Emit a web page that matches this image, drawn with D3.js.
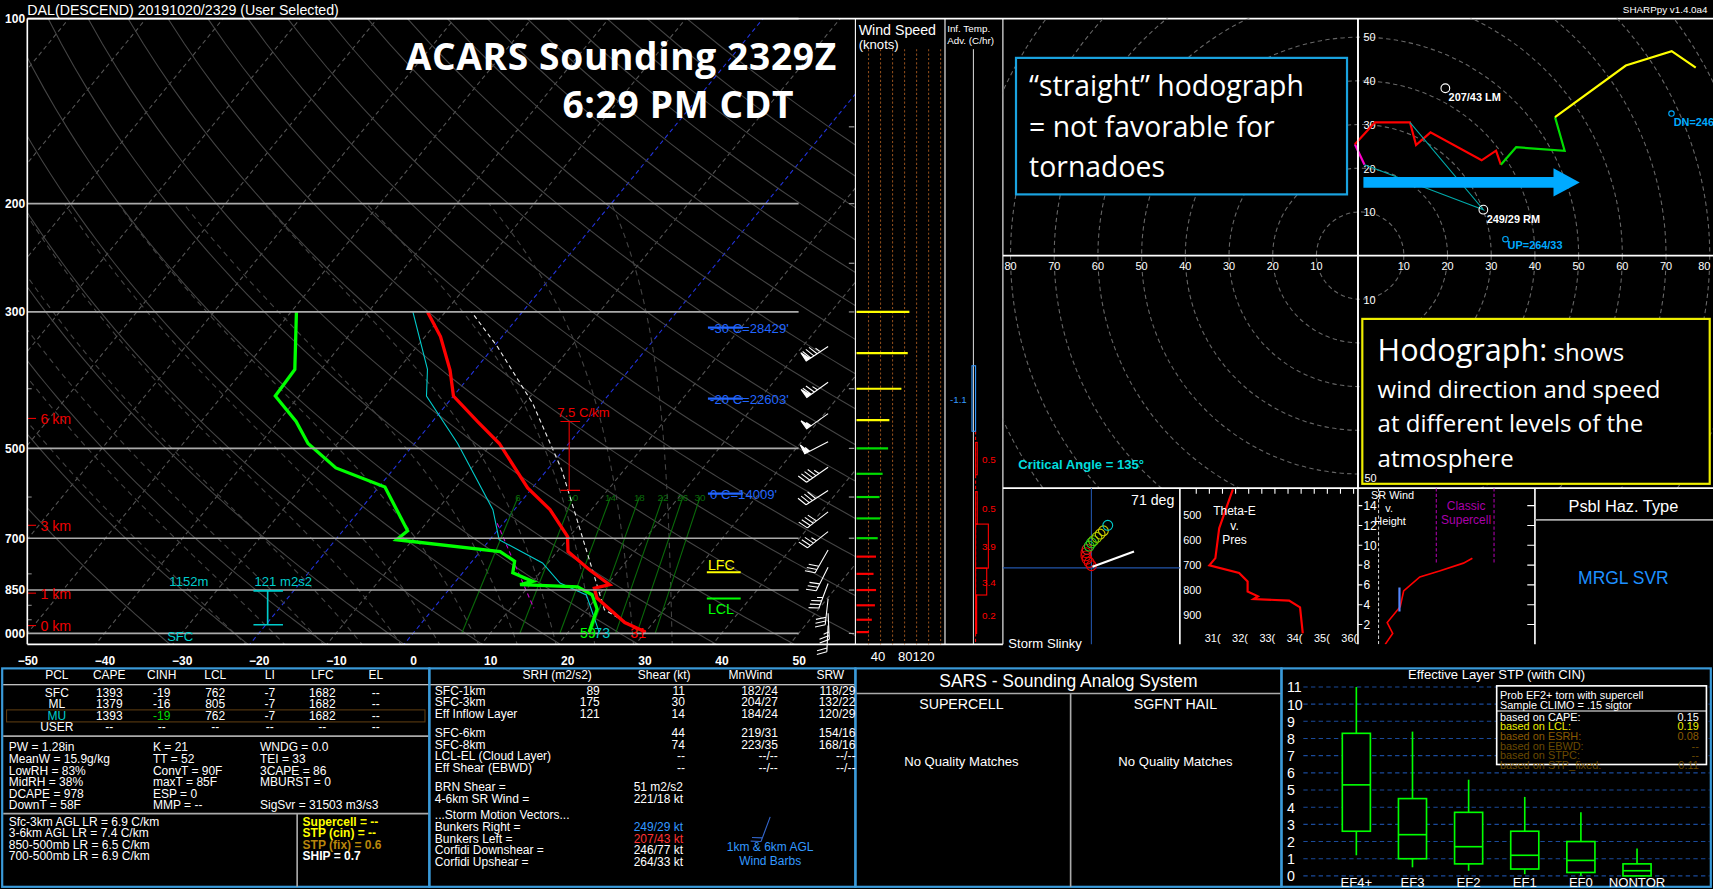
<!DOCTYPE html>
<html><head><meta charset="utf-8">
<script src="https://cdn.jsdelivr.net/npm/d3@7/dist/d3.min.js"></script>
<style>
body{margin:0;background:#000;overflow:hidden}
text{font-family:"Liberation Sans Narrow","Liberation Sans",Arial,sans-serif}
.ann{font-family:"Open Sans","Noto Sans",sans-serif}
</style></head><body>
<svg id="chart"></svg>
<script>
// ---- sounding data ----
var tmpP = [995, 960, 876, 844, 833, 788, 736, 695, 629, 580, 491, 452, 411, 373, 329, 300]
var tmpT = [30, 26.3, 20.1, 18.7, 20.3, 16.1, 11.4, 9.7, 4.6, -0.6, -9, -14.2, -20, -23.2, -28, -32.3]
var dwpP = [995, 913, 865, 840, 833, 823, 797, 763, 736, 704, 681, 578, 538, 491, 452, 411, 372, 300]
var dwpT = [22.7, 21.3, 19.1, 16.4, 8.7, 10, 6.5, 5.5, 2.6, -12.1, -11.6, -19.2, -27.6, -33.8, -37.7, -43.1, -43.4, -49.3]
var wbP = [995, 866, 828, 768, 704, 629, 491, 411, 372, 300]
var wbT = [24, 18.4, 13.7, 9.3, 1.2, -2.8, -14.4, -23.5, -26.2, -34.2]
var pclP = [995, 960, 915, 788, 695, 542, 422, 342, 300]
var pclT = [30, 26.5, 22.3, 16.5, 11.6, 1.9, -9, -19.5, -26.6]
var dcapeP = [662, 910]
var dcapeT = [-0.8, 13]

// winds (u, v in kt)
var windP = [995, 950, 900, 850, 800, 750, 700, 650, 600, 550, 500, 450, 400, 350, 300]
var windU = [1.0, -1.2, 3.4, 11.4, 12.8, 16.1, 27.8, 31.1, 32.2, 35.7, 46.8, 44.6, 60.8, 71.3, 76.8]
var windV = [20.8, 25.5, 30.5, 30.5, 25.3, 28.2, 21.8, 24, 20.8, 24.8, 24, 31.7, 43.5, 46.8, 43]

var tempTicks = [-50, -40, -30, -20, -10, 0, 10, 20, 30, 40, 50]
var presTicks = [100, 200, 300, 500, 700, 850, 1000]
var hgtLabels = ['0 km', '1 km', '3 km', '6 km']
var hgtP = [971, 860, 667, 447]
var mixRatios = [6, 10, 14, 18, 22, 26, 30]

// inferred temp advection
var advTop = [367, 489, 588, 664, 783, 866]
var advBot = [469, 552, 664, 783, 866, 1000]
var advVal = [-1.1, 0.5, 0.5, 3.9, 3.4, 0.2]

// theta-e vs pressure
var thetaP = [400, 555, 674, 703, 733, 767, 807, 826, 837, 843, 870, 974]
var thetaE = [317.4, 312.4, 311, 308.8, 319.7, 322.8, 322.8, 326.6, 325, 338, 342, 343]

// storm-relative wind vs height
var srKm = [0, 1.1, 2.2, 3.8, 5.4, 6.8, 7.4, 8.2, 8.7]
var srKt = [22.3, 24.9, 23, 27.5, 28.7, 34.3, 41.1, 49.4, 52.5]

// storm slinky offsets
var slinkyX = [0, -2, -4, -5, -5, -4, -2, 0, 2, 5, 8, 11, 15]
var slinkyY = [-2, -5, -8, -11, -14, -17, -20, -23, -25, -28, -31, -34, -39]
var slinkyC = ['#e00', '#e00', '#e00', '#e00', '#e00', '#d22', '#2c2', '#2c2', '#6c0', '#9c0', '#cc0', '#cc0', '#0cc']

// STP box plot
var stpCats = ['EF4+', 'EF3', 'EF2', 'EF1', 'EF0', 'NONTOR']
var stpLo = [1.2, 0.5, 0.3, 0.1, 0, 0]
var stpQ1 = [2.6, 1.0, 0.7, 0.4, 0.2, 0]
var stpMed = [5.3, 2.4, 1.7, 1.2, 0.9, 0.3]
var stpQ3 = [8.3, 4.5, 3.7, 2.6, 2.0, 0.7]
var stpHi = [11, 8.4, 5.6, 4.6, 3.7, 1.6]

var W = 1568, H = 814
var svg = d3.select('#chart')
  .attr('width', 1713).attr('height', 889)
  .attr('viewBox', '0 0 ' + W + ' ' + H)
  .attr('preserveAspectRatio', 'none')
  .style('background', '#000')

function txt(g, x, y, s, size, color, anchor, weight) {
  return g.append('text').attr('x', x).attr('y', y).text(s)
    .attr('font-size', size).attr('fill', color || '#fff')
    .attr('text-anchor', anchor || 'start')
    .attr('font-weight', weight || 'normal')
}

// ================= skew-T =================
var x = d3.scaleLinear().domain([-50, 50]).range([25, 731])
var y = d3.scaleLog().domain([1000, 100]).range([580, 17])
var skew = 0.82
function sx(t, p) { return x(t) + skew * (580 - y(p)) }

svg.append('clipPath').attr('id', 'skewclip')
  .append('rect').attr('x', 25).attr('y', 17).attr('width', 758).attr('height', 573)
var sk = svg.append('g').attr('clip-path', 'url(#skewclip)')

var pGrid = d3.range(1050, 95, -10)
var lineTP = d3.line().x(d => sx(d[0], d[1])).y(d => y(d[1]))

// isotherms
d3.range(-120, 60, 10).forEach(t => {
  var col = (t === 0 || t === -20) ? '#2233dd' : '#555'
  sk.append('line').attr('x1', sx(t, 1050)).attr('y1', y(1050))
    .attr('x2', sx(t, 100)).attr('y2', y(100))
    .attr('stroke', col).attr('stroke-width', 1).attr('stroke-dasharray', '4,3')
})
// dry adiabats
d3.range(240, 480, 10).forEach(th => {
  sk.append('path').datum(pGrid.map(p => [th * Math.pow(p / 1000, 0.286) - 273.15, p]))
    .attr('d', lineTP).attr('fill', 'none').attr('stroke', '#444').attr('stroke-width', 1)
})
// moist adiabats
function es(t) { return 6.112 * Math.exp(17.67 * t / (t + 243.5)) }
d3.range(-20, 40, 5).forEach(t0 => {
  var pts = [], t = t0 + 273.15
  for (var p = 1050; p >= 200; p -= 5) {
    var tc = t - 273.15, rs = 0.622 * es(tc) / (p - es(tc))
    pts.push([tc, p])
    var dtdp = (287 * t + 2.5e6 * rs) / (p * (1004 + 2.5e6 * 2.5e6 * rs * 0.622 / (287 * t * t)))
    t -= dtdp * 5
  }
  sk.append('path').datum(pts).attr('d', lineTP).attr('fill', 'none')
    .attr('stroke', '#444').attr('stroke-width', 1).attr('stroke-dasharray', '5,4')
})
// mixing ratio lines
mixRatios.forEach(w => {
  var pts = [1000, 600].map(p => {
    var e = w / 1000 * p / (0.622 + w / 1000), l = Math.log(e / 6.112)
    return [243.5 * l / (17.67 - l), p]
  })
  sk.append('path').datum(pts).attr('d', lineTP).attr('stroke', '#0a6a0a').attr('stroke-width', 1)
  txt(sk, sx(pts[1][0], 600), y(600) + 4, w, 9, '#0a6a0a', 'middle')
})
// pressure lines
presTicks.forEach(p => {
  svg.append('line').attr('x1', 25).attr('x2', 731).attr('y1', y(p)).attr('y2', y(p))
    .attr('stroke', '#aaa').attr('stroke-width', 1.5)
  txt(svg, 23, y(p) + 4, p === 1000 ? '000' : p, 11, '#fff', 'end', 'bold')
})
;[400, 600, 800, 900, 950].forEach(p => {
  svg.append('line').attr('x1', 25).attr('x2', 29).attr('y1', y(p)).attr('y2', y(p)).attr('stroke', '#888')
})
hgtLabels.forEach((h, i) => {
  svg.append('line').attr('x1', 25).attr('x2', 33).attr('y1', y(hgtP[i])).attr('y2', y(hgtP[i])).attr('stroke', '#e00')
  txt(svg, 37, y(hgtP[i]) + 5, h, 13, '#e00')
})

// profiles
function prof(P, T, col, wdt, dash) {
  sk.append('path').datum(P.map((p, i) => [T[i], p])).attr('d', lineTP)
    .attr('fill', 'none').attr('stroke', col).attr('stroke-width', wdt)
    .attr('stroke-dasharray', dash || null)
}
prof(dcapeP, dcapeT, '#c0c', 1, '4,3')
prof(pclP, pclT, '#eee', 1, '4,3')
prof(wbP, wbT, '#0cc', 1)
prof(dwpP, dwpT, '#0f0', 3)
prof(tmpP, tmpT, '#f00', 3)
sk.append('line').attr('x1', sx(tmpT[0], 995)).attr('y1', y(995)).attr('x2', sx(tmpT[1], 960)).attr('y2', y(960))
  .attr('stroke', '#f00').attr('stroke-width', 2).attr('stroke-dasharray', '3,2')

// annotations on skew-T
var fz = [['-30 C=28429\'', 300], ['-20 C=22603\'', 365], ['0 C=14009\'', 452]]
fz.forEach(f => {
  txt(svg, 650, f[1] + 5, f[0], 12, '#2266ff')
  svg.append('line').attr('x1', 648).attr('x2', 680).attr('y1', f[1]).attr('y2', f[1]).attr('stroke', '#2266ff').attr('stroke-width', 2)
})
txt(svg, 648, 522, 'LFC', 13, '#ff0')
svg.append('line').attr('x1', 647).attr('x2', 678).attr('y1', 524).attr('y2', 524).attr('stroke', '#ff0').attr('stroke-width', 2)
txt(svg, 648, 562, 'LCL', 13, '#0f0')
svg.append('line').attr('x1', 647).attr('x2', 678).attr('y1', 548).attr('y2', 548).attr('stroke', '#0f0').attr('stroke-width', 2)
txt(svg, 510, 382, '7.5 C/km', 12, '#e00')
svg.append('path').attr('d', 'M513,386H531M521,386V449M513,449H531').attr('stroke', '#e00').attr('fill', 'none')
txt(svg, 155, 537, '1152m', 12, '#0cc')
txt(svg, 233, 537, '121 m2s2', 12, '#0cc')
svg.append('path').attr('d', 'M232,541H259M245,541V572M232,572H259').attr('stroke', '#0cc').attr('fill', 'none').attr('stroke-width', 1.5)
txt(svg, 153, 587, 'SFC', 12, '#0cc')
txt(svg, 531, 584, '59', 13, '#0f0')
txt(svg, 544, 584, '73', 13, '#0cc')
txt(svg, 577, 584, '31', 13, '#f00')

// temperature axis
var xa = svg.append('g').attr('transform', 'translate(0,597)')
  .call(d3.axisBottom(x).tickValues(tempTicks).tickSize(0).tickPadding(4))
xa.select('.domain').remove()
xa.selectAll('text').attr('fill', '#fff').attr('font-size', 11).attr('font-weight', 'bold')
  .attr('font-family', 'Liberation Sans Narrow, Liberation Sans, Arial')

// wind barbs
function barb(g, bx, by, u, v) {
  var spd = Math.sqrt(u * u + v * v), dir = Math.atan2(-u, -v)
  var ux = Math.sin(dir), uy = -Math.cos(dir), L = 24
  var ex = bx + ux * L, ey = by + uy * L
  var px = -uy, py = ux, s = Math.round(spd / 5) * 5, pos = 0, d = 'M' + bx + ',' + by + 'L' + ex + ',' + ey
  while (s >= 50) {
    var ax = ex - ux * pos, ay = ey - uy * pos
    d += 'M' + ax + ',' + ay + 'L' + (ax + px * 9) + ',' + (ay + py * 9) + 'L' + (ax - ux * 4) + ',' + (ay - uy * 4) + 'Z'
    s -= 50; pos += 5
  }
  while (s >= 10) {
    var ax = ex - ux * pos, ay = ey - uy * pos
    d += 'M' + ax + ',' + ay + 'L' + (ax + px * 9 + ux * 3) + ',' + (ay + py * 9 + uy * 3)
    s -= 10; pos += 3.5
  }
  if (s >= 5) {
    var ax = ex - ux * pos, ay = ey - uy * pos
    d += 'M' + ax + ',' + ay + 'L' + (ax + px * 5 + ux * 2) + ',' + (ay + py * 5 + uy * 2)
  }
  g.append('path').attr('d', d).attr('stroke', '#fff').attr('fill', '#fff').attr('stroke-width', 1)
}
windP.forEach((p, i) => { if (p >= 320) barb(svg, 758, y(p) - 6, windU[i], windV[i]) })

// skew-T frame
svg.append('line').attr('x1', 25).attr('x2', 25).attr('y1', 17).attr('y2', 590).attr('stroke', '#fff').attr('stroke-width', 1.5)
svg.append('line').attr('x1', 25).attr('x2', 918).attr('y1', 590).attr('y2', 590).attr('stroke', '#fff').attr('stroke-width', 1.5)
svg.append('line').attr('x1', 25).attr('x2', 1568).attr('y1', 17).attr('y2', 17).attr('stroke', '#fff').attr('stroke-width', 1.5)

// title texts
txt(svg, 25, 14, 'DAL(DESCEND)  20191020/2329  (User Selected)', 13, '#fff')
txt(svg, 1563, 12, 'SHARPpy v1.4.0a4', 9, '#fff', 'end')
txt(svg, 766, 64, 'ACARS Sounding 2329Z', 34, '#fff', 'end', 'bold').attr('class', 'ann').attr('letter-spacing', 0.6)
txt(svg, 727, 108, '6:29 PM CDT', 34, '#fff', 'end', 'bold').attr('class', 'ann').attr('letter-spacing', 0.6)

// ================= wind speed panel =================
var ws = d3.scaleLinear().domain([0, 140]).range([784, 861])
svg.append('line').attr('x1', 783).attr('x2', 783).attr('y1', 17).attr('y2', 590).attr('stroke', '#fff')
;[150, 200, 250, 300, 400, 500, 600, 700, 850, 1000].forEach(p => {
  svg.append('line').attr('x1', 777).attr('x2', 782).attr('y1', y(p)).attr('y2', y(p)).attr('stroke', '#aaa')
})
d3.range(20, 150, 20).forEach(k => {
  svg.append('line').attr('x1', ws(k)).attr('x2', ws(k)).attr('y1', 45).attr('y2', 590)
    .attr('stroke', '#8a4a1a').attr('stroke-dasharray', '2,2')
})
windP.forEach((p, i) => {
  var spd = Math.sqrt(windU[i] * windU[i] + windV[i] * windV[i])
  var col = p > 700 ? '#f00' : (p > 450 ? '#0d0' : '#ff0')
  svg.append('line').attr('x1', ws(0)).attr('x2', ws(spd)).attr('y1', y(p)).attr('y2', y(p))
    .attr('stroke', col).attr('stroke-width', 2)
})
txt(svg, 786, 32, 'Wind Speed', 13, '#fff')
txt(svg, 786, 45, '(knots)', 12, '#fff')
txt(svg, 797, 605, '40', 12, '#fff')
txt(svg, 822, 605, '80120', 12, '#fff')

// ================= inferred temp advection =================
svg.append('line').attr('x1', 865).attr('x2', 865).attr('y1', 17).attr('y2', 590).attr('stroke', '#fff')
svg.append('line').attr('x1', 918).attr('x2', 918).attr('y1', 17).attr('y2', 590).attr('stroke', '#fff')
txt(svg, 867, 29, 'Inf. Temp.', 9, '#fff')
txt(svg, 867, 40, 'Adv. (C/hr)', 9, '#fff')
svg.append('line').attr('x1', 891).attr('x2', 891).attr('y1', 45).attr('y2', 590).attr('stroke', '#fff').attr('stroke-width', 0.8)
svg.append('line').attr('x1', 893).attr('x2', 893).attr('y1', y(469)).attr('y2', 590).attr('stroke', '#f00').attr('stroke-dasharray', '3,2')
advVal.forEach((v, i) => {
  var col = v < 0 ? '#39f' : '#f00'
  var x0 = 893, x1 = 893 + v * 3
  svg.append('rect').attr('x', Math.min(x0, x1)).attr('width', Math.max(Math.abs(x1 - x0), 1))
    .attr('y', y(advTop[i])).attr('height', y(advBot[i]) - y(advTop[i]))
    .attr('fill', 'none').attr('stroke', col)
  txt(svg, v < 0 ? 885 : 899, (y(advTop[i]) + y(advBot[i])) / 2 + 4, v, 9, col, v < 0 ? 'end' : 'start')
})

// ================= hodograph =================
var hs = 4, hcx = 1245, hcy = 234
svg.append('clipPath').attr('id', 'hodoclip')
  .append('rect').attr('x', 918).attr('y', 17).attr('width', 650).attr('height', 430)
var hg = svg.append('g').attr('clip-path', 'url(#hodoclip)')
d3.range(10, 100, 10).forEach(r => {
  hg.append('circle').attr('cx', hcx).attr('cy', hcy).attr('r', r * hs)
    .attr('fill', 'none').attr('stroke', '#666').attr('stroke-dasharray', '4,3')
})
hg.append('line').attr('x1', hcx - 2).attr('x2', hcx - 2).attr('y1', 17).attr('y2', 447).attr('stroke', '#fff').attr('stroke-width', 1.5)
hg.append('line').attr('x1', 918).attr('x2', 1568).attr('y1', hcy).attr('y2', hcy).attr('stroke', '#fff').attr('stroke-width', 1.5)
d3.range(10, 90, 10).forEach(k => {
  txt(hg, hcx - k * hs, hcy + 13, k, 10, '#fff', 'middle')
  txt(hg, Math.min(hcx + k * hs, 1560), hcy + 13, k, 10, '#fff', 'middle')
  if (k <= 50) {
    txt(hg, hcx + 3, hcy - k * hs + 4, k, 10, '#fff')
    txt(hg, hcx + 3, hcy + k * hs + 4, k, 10, '#fff')
  }
})
var hodoLine = d3.line().x(i => hcx + windU[i] * hs).y(i => hcy - windV[i] * hs)
var seg = [[[0, 1], '#f0c'], [[1, 2, 3, 4, 5, 6, 7, 8], '#f00'], [[8, 9, 10, 11], '#0d0'], [[11, 12, 13, 14], '#ff0']]
seg.forEach(s => hg.append('path').attr('d', hodoLine(s[0])).attr('fill', 'none').attr('stroke', s[1]).attr('stroke-width', 2))
// storm motions
var rmU = 28.2, rmV = 10.5, lmU = 19.5, lmV = 38.3
hg.append('path').attr('d', 'M' + (hcx + windU[0] * hs) + ',' + (hcy - windV[0] * hs) + 'L' + (hcx + rmU * hs) + ',' + (hcy - rmV * hs) + 'L' + (hcx + windU[3] * hs) + ',' + (hcy - windV[3] * hs))
  .attr('fill', 'none').attr('stroke', '#0aa')
;[[rmU, rmV, '249/29 RM'], [lmU, lmV, '207/43 LM']].forEach(m => {
  hg.append('circle').attr('cx', hcx + m[0] * hs).attr('cy', hcy - m[1] * hs).attr('r', 4).attr('fill', 'none').attr('stroke', '#fff')
  txt(hg, hcx + m[0] * hs + 3, hcy - m[1] * hs + 12, m[2], 10, '#fff', 'start', 'bold')
})
hg.append('circle').attr('cx', 1378).attr('cy', 219).attr('r', 2.5).attr('fill', 'none').attr('stroke', '#0af')
txt(hg, 1380, 228, 'UP=264/33', 10, '#0af', 'start', 'bold')
hg.append('circle').attr('cx', 1530).attr('cy', 104).attr('r', 2.5).attr('fill', 'none').attr('stroke', '#0af')
txt(hg, 1532, 115, 'DN=246', 10, '#0af', 'start', 'bold')
txt(svg, 932, 429, 'Critical Angle = 135\u00b0', 12, '#0dd', 'start', 'bold')

// annotation boxes
svg.append('rect').attr('x', 930).attr('y', 53).attr('width', 303).attr('height', 125).attr('fill', '#000').attr('stroke', '#1aa3e0').attr('stroke-width', 2)
;['\u201cstraight\u201d hodograph', '= not favorable for', 'tornadoes'].forEach((s, i) => {
  txt(svg, 942, 88 + i * 37, s, 26, '#fff').attr('class', 'ann')
})
svg.append('rect').attr('x', 1247).attr('y', 292).attr('width', 318).attr('height', 151).attr('fill', '#000').attr('stroke', '#ee0').attr('stroke-width', 2)
var ht = txt(svg, 1261, 331, 'Hodograph:', 28, '#fff').attr('class', 'ann')
ht.append('tspan').attr('font-size', 22).text(' shows')
;['wind direction and speed', 'at different levels of the', 'atmosphere'].forEach((s, i) => {
  txt(svg, 1261, 364 + i * 32, s, 22, '#fff').attr('class', 'ann')
})
txt(svg, 1249, 441, '50', 10, '#fff')
svg.append('line').attr('x1', 1248).attr('x2', 1425).attr('y1', 167).attr('y2', 167).attr('stroke', '#0af').attr('stroke-width', 10)
svg.append('path').attr('d', 'M1422,154L1446,167L1422,180Z').attr('fill', '#0af')

// ================= lower insets =================
svg.append('line').attr('x1', 918).attr('x2', 1568).attr('y1', 447).attr('y2', 447).attr('stroke', '#fff').attr('stroke-width', 1.5)
;[1080, 1243, 1405].forEach(v => svg.append('line').attr('x1', v).attr('x2', v).attr('y1', 447).attr('y2', 590).attr('stroke', '#fff').attr('stroke-width', 1.5))
svg.append('line').attr('x1', 1243).attr('x2', 1243).attr('y1', 17).attr('y2', 447).attr('stroke', '#fff').attr('stroke-width', 1.5)

// storm slinky
svg.append('line').attr('x1', 999).attr('x2', 999).attr('y1', 447).attr('y2', 590).attr('stroke', '#25a')
svg.append('line').attr('x1', 918).attr('x2', 1080).attr('y1', 520).attr('y2', 520).attr('stroke', '#25a')
slinkyX.forEach((d, i) => {
  svg.append('circle').attr('cx', 999 + d).attr('cy', 520 + slinkyY[i]).attr('r', 4.5)
    .attr('fill', 'none').attr('stroke', slinkyC[i])
})
svg.append('line').attr('x1', 1000).attr('y1', 519).attr('x2', 1038).attr('y2', 505).attr('stroke', '#fff').attr('stroke-width', 2)
txt(svg, 1075, 462, '71 deg', 13, '#fff', 'end')
txt(svg, 923, 593, 'Storm Slinky', 12, '#fff')

// theta-e
var tx = d3.scaleLinear().domain([300, 364]).range([1085, 1245])
var tyy = d3.scaleLinear().domain([500, 1000]).range([471, 586])
svg.append('clipPath').attr('id', 'thclip').append('rect').attr('x', 1080).attr('y', 447).attr('width', 163).attr('height', 143)
var th = svg.append('g').attr('clip-path', 'url(#thclip)')
;[500, 600, 700, 800, 900].forEach(p => txt(th, 1083, tyy(p) + 4, p, 10, '#fff'))
d3.range(310, 370, 10).forEach(t => txt(th, tx(t), 588, (t + '').slice(0, 2) + '(', 10, '#fff', 'middle'))
d3.range(1095, 1243, 12).forEach(v => th.append('line').attr('x1', v).attr('x2', v).attr('y1', 447).attr('y2', 452).attr('stroke', '#fff'))
th.append('path').datum(thetaP.map((p, i) => [tx(thetaE[i]), tyy(p)])).attr('d', d3.line())
  .attr('fill', 'none').attr('stroke', '#f00').attr('stroke-width', 2)
txt(th, 1130, 472, 'Theta-E', 11, '#fff', 'middle')
txt(th, 1130, 485, 'v.', 11, '#fff', 'middle')
txt(th, 1130, 498, 'Pres', 11, '#fff', 'middle')

// SR wind
var srx = d3.scaleLinear().domain([0, 70]).range([1209, 1394])
var sry = d3.scaleLinear().domain([0, 14]).range([590, 463])
svg.append('clipPath').attr('id', 'srclip').append('rect').attr('x', 1243).attr('y', 447).attr('width', 162).attr('height', 143)
var sr = svg.append('g').attr('clip-path', 'url(#srclip)')
d3.range(2, 16, 2).forEach(k => {
  txt(sr, 1248, sry(k) + 4, k, 11, '#fff')
  sr.append('line').attr('x1', 1243).attr('x2', 1247).attr('y1', sry(k)).attr('y2', sry(k)).attr('stroke', '#fff')
  sr.append('line').attr('x1', 1398).attr('x2', 1405).attr('y1', sry(k)).attr('y2', sry(k)).attr('stroke', '#fff')
})
sr.append('line').attr('x1', srx(20)).attr('x2', srx(20)).attr('y1', 447).attr('y2', 590).attr('stroke', '#ccc').attr('stroke-dasharray', '3,2')
;[40, 60].forEach(k => sr.append('line').attr('x1', srx(k)).attr('x2', srx(k)).attr('y1', 447).attr('y2', 517).attr('stroke', '#a0a').attr('stroke-dasharray', '3,2'))
sr.append('path').datum(srKm.map((k, i) => [srx(srKt[i]), sry(k)])).attr('d', d3.line())
  .attr('fill', 'none').attr('stroke', '#f00').attr('stroke-width', 1.5)
sr.append('line').attr('x1', 1281).attr('x2', 1281).attr('y1', 538).attr('y2', 560).attr('stroke', '#58f').attr('stroke-width', 2)
txt(sr, 1255, 457, 'SR Wind', 10, '#fff')
txt(sr, 1268, 469, 'v.', 10, '#fff')
txt(sr, 1258, 481, 'Height', 10, '#fff')
txt(sr, 1342, 467, 'Classic', 11, '#a0a', 'middle')
txt(sr, 1342, 480, 'Supercell', 11, '#a0a', 'middle')

// possible hazard
txt(svg, 1486, 469, 'Psbl Haz. Type', 15, '#fff', 'middle')
svg.append('line').attr('x1', 1405).attr('x2', 1568).attr('y1', 476).attr('y2', 476).attr('stroke', '#aaa').attr('stroke-width', 1.5)
txt(svg, 1486, 535, 'MRGL SVR', 16, '#1e90ff', 'middle')

// ================= bottom panels =================
var bc = '#3a9ad9'
;[[2, 393], [393, 783], [783, 1173], [1173, 1566]].forEach(b => {
  svg.append('rect').attr('x', b[0]).attr('y', 612).attr('width', b[1] - b[0]).attr('height', 200)
    .attr('fill', 'none').attr('stroke', bc).attr('stroke-width', 2)
})
// panel 1
var pclCols = ['PCL', 'CAPE', 'CINH', 'LCL', 'LI', 'LFC', 'EL']
var pclX = [52, 100, 148, 197, 247, 295, 344]
var pclRows = [
  ['SFC', '1393', '-19', '762', '-7', '1682', '--'],
  ['ML', '1379', '-16', '805', '-7', '1682', '--'],
  ['MU', '1393', '-19', '762', '-7', '1682', '--'],
  ['USER', '--', '--', '--', '--', '--', '--']]
pclCols.forEach((c, i) => txt(svg, pclX[i], 622, c, 11, '#fff', 'middle'))
svg.append('line').attr('x1', 3).attr('x2', 392).attr('y1', 627).attr('y2', 627).attr('stroke', '#fff')
svg.append('rect').attr('x', 6).attr('y', 650).attr('width', 383).attr('height', 11).attr('fill', 'none').attr('stroke', '#5a3a10')
pclRows.forEach((r, j) => r.forEach((c, i) => {
  var col = '#fff'
  if (j === 2 && i === 0) col = '#0cc'
  if (j === 2 && i === 2) col = '#0d0'
  txt(svg, pclX[i], 638 + j * 10.5, c, 11, col, 'middle')
}))
svg.append('line').attr('x1', 3).attr('x2', 392).attr('y1', 674).attr('y2', 674).attr('stroke', '#aaa').attr('stroke-width', 1.5)
var idx1 = ['PW = 1.28in', 'MeanW = 15.9g/kg', 'LowRH = 83%', 'MidRH = 38%', 'DCAPE = 978', 'DownT = 58F']
var idx2 = ['K = 21', 'TT = 52', 'ConvT = 90F', 'maxT = 85F', 'ESP = 0', 'MMP = --']
var idx3 = ['WNDG = 0.0', 'TEI = 33', '3CAPE = 86', 'MBURST = 0', '', 'SigSvr = 31503 m3/s3']
;[idx1, idx2, idx3].forEach((col, k) => col.forEach((s, i) => txt(svg, [8, 140, 238][k], 688 + i * 10.6, s, 11, '#fff')))
svg.append('line').attr('x1', 3).attr('x2', 392).attr('y1', 745).attr('y2', 745).attr('stroke', '#aaa').attr('stroke-width', 1.5)
svg.append('line').attr('x1', 272).attr('x2', 272).attr('y1', 745).attr('y2', 812).attr('stroke', '#aaa').attr('stroke-width', 1.5)
;['Sfc-3km AGL LR = 6.9 C/km', '3-6km AGL LR = 7.4 C/km', '850-500mb LR = 6.5 C/km', '700-500mb LR = 6.9 C/km']
  .forEach((s, i) => txt(svg, 8, 756 + i * 10.6, s, 11, '#fff'))
var sup = [['Supercell = --', '#ff0'], ['STP (cin) = --', '#ff0'], ['STP (fix) = 0.6', '#b8860b'], ['SHIP = 0.7', '#fff']]
sup.forEach((s, i) => txt(svg, 277, 756 + i * 10.6, s[0], 11, s[1], 'start', 'bold'))

// panel 2
;[['SRH (m2/s2)', 510], ['Shear (kt)', 608], ['MnWind', 687], ['SRW', 760]].forEach(h => txt(svg, h[1], 622, h[0], 11, '#fff', 'middle'))
svg.append('line').attr('x1', 394).attr('x2', 782).attr('y1', 627).attr('y2', 627).attr('stroke', '#fff')
var kin = [
  ['SFC-1km', '89', '11', '182/24', '118/29', 636],
  ['SFC-3km', '175', '30', '204/27', '132/22', 646.5],
  ['Eff Inflow Layer', '121', '14', '184/24', '120/29', 657],
  ['SFC-6km', '', '44', '219/31', '154/16', 675],
  ['SFC-8km', '', '74', '223/35', '168/16', 685.5],
  ['LCL-EL (Cloud Layer)', '', '--', '--/--', '--/--', 696],
  ['Eff Shear (EBWD)', '', '--', '--/--', '--/--', 706.5]]
kin.forEach(r => {
  txt(svg, 398, r[5], r[0], 11, '#fff')
  txt(svg, 549, r[5], r[1], 11, '#fff', 'end')
  txt(svg, 627, r[5], r[2], 11, '#fff', 'end')
  txt(svg, 712, r[5], r[3], 11, '#fff', 'end')
  txt(svg, 783, r[5], r[4], 11, '#fff', 'end')
})
txt(svg, 398, 724, 'BRN Shear =', 11, '#fff'); txt(svg, 580, 724, '51 m2/s2', 11, '#fff')
txt(svg, 398, 735, '4-6km SR Wind =', 11, '#fff'); txt(svg, 580, 735, '221/18 kt', 11, '#fff')
txt(svg, 398, 750, '...Storm Motion Vectors...', 11, '#fff')
var sm = [['Bunkers Right =', '249/29 kt', '#39f'], ['Bunkers Left =', '207/43 kt', '#f33'], ['Corfidi Downshear =', '246/77 kt', '#fff'], ['Corfidi Upshear =', '264/33 kt', '#fff']]
sm.forEach((s, i) => {
  txt(svg, 398, 761 + i * 10.5, s[0], 11, '#fff')
  txt(svg, 580, 761 + i * 10.5, s[1], 11, s[2])
})
var bg = svg.append('g')
barb(bg, 705, 748, windU[3] * 0.6, windV[3] * 0.6)
bg.selectAll('path').attr('stroke', '#36c').attr('fill', '#36c')
txt(svg, 705, 779, '1km & 6km AGL', 11, '#39f', 'middle')
txt(svg, 705, 792, 'Wind Barbs', 11, '#39f', 'middle')

// panel 3 SARS
txt(svg, 978, 629, 'SARS - Sounding Analog System', 16, '#fff', 'middle')
svg.append('line').attr('x1', 784).attr('x2', 1172).attr('y1', 635).attr('y2', 635).attr('stroke', '#aaa').attr('stroke-width', 1.5)
svg.append('line').attr('x1', 980).attr('x2', 980).attr('y1', 635).attr('y2', 812).attr('stroke', '#aaa').attr('stroke-width', 1.5)
txt(svg, 880, 649, 'SUPERCELL', 13, '#fff', 'middle')
txt(svg, 1076, 649, 'SGFNT HAIL', 13, '#fff', 'middle')
txt(svg, 880, 701, 'No Quality Matches', 12, '#fff', 'middle')
txt(svg, 1076, 701, 'No Quality Matches', 12, '#fff', 'middle')

// panel 4 STP
var stpY = d3.scaleLinear().domain([0, 11]).range([802, 629])
var stpX = d3.scaleBand().domain(stpCats).range([1203, 1537]).padding(0.5)
txt(svg, 1370, 622, 'Effective Layer STP (with CIN)', 12, '#fff', 'middle')
d3.range(0, 12).forEach(k => {
  svg.append('line').attr('x1', 1193).attr('x2', 1565).attr('y1', stpY(k)).attr('y2', stpY(k))
    .attr('stroke', '#1a4a9a').attr('stroke-dasharray', '4,3')
  txt(svg, 1178, stpY(k) + 5, k, 13, '#fff')
})
stpCats.forEach((c, i) => {
  var cx = stpX(c) + stpX.bandwidth() / 2, bw = stpX.bandwidth()
  svg.append('line').attr('x1', cx).attr('x2', cx).attr('y1', stpY(stpLo[i])).attr('y2', stpY(stpHi[i])).attr('stroke', '#0f0').attr('stroke-width', 1.5)
  svg.append('rect').attr('x', stpX(c)).attr('width', bw).attr('y', stpY(stpQ3[i])).attr('height', stpY(stpQ1[i]) - stpY(stpQ3[i]))
    .attr('fill', '#000').attr('stroke', '#0f0').attr('stroke-width', 1.5)
  svg.append('line').attr('x1', stpX(c)).attr('x2', stpX(c) + bw).attr('y1', stpY(stpMed[i])).attr('y2', stpY(stpMed[i])).attr('stroke', '#0f0').attr('stroke-width', 1.5)
  txt(svg, cx, 812, c, 12, '#fff', 'middle')
})
svg.append('rect').attr('x', 1370).attr('y', 628).attr('width', 192).attr('height', 72).attr('fill', '#000').attr('stroke', '#fff').attr('stroke-width', 1.5)
txt(svg, 1373, 640, 'Prob EF2+ torn with supercell', 10, '#fff')
txt(svg, 1373, 649, 'Sample CLIMO = .15 sigtor', 10, '#fff')
svg.append('line').attr('x1', 1370).attr('x2', 1562).attr('y1', 651).attr('y2', 651).attr('stroke', '#fff')
var prob = [['based on CAPE:', '0.15', '#fff'], ['based on LCL:', '0.19', '#ee0'], ['based on ESRH:', '0.08', '#8a5a00'],
  ['based on EBWD:', '--', '#6a4a00'], ['based on STPC:', '--', '#6a4a00'], ['based on STP_fixed:', '0.11', '#6a4a00']]
prob.forEach((r, i) => {
  txt(svg, 1373, 660 + i * 8.8, r[0], 10, r[2])
  txt(svg, 1555, 660 + i * 8.8, r[1], 10, r[2], 'end')
})
</script></body></html>
